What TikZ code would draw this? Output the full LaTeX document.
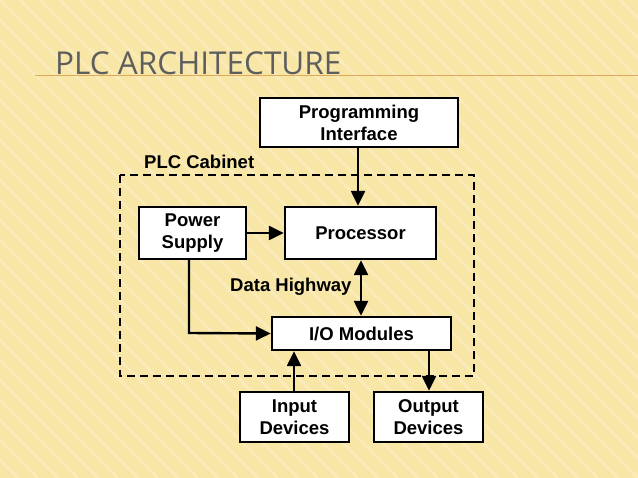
\documentclass[tikz,border=0pt]{standalone}
\usepackage{fontspec}
\setmainfont{Liberation Sans}
\newfontfamily\titlefont{Open Sans}
\usetikzlibrary{arrows.meta}
\definecolor{bg}{HTML}{F8E6A6}
\definecolor{stripe}{HTML}{FAEBB8}
\definecolor{titlegray}{HTML}{5E5E5E}
\definecolor{rule}{HTML}{E0A85A}
\begin{document}
\begin{tikzpicture}[x=1pt,y=-1pt,
  blk/.style={draw,line width=2.4pt,fill=white,font=\bfseries\fontsize{18.5}{22}\selectfont,align=center,inner sep=0pt},
  arr/.style={line width=2.4pt,-{Triangle[length=15pt,width=14pt]}},
  darr/.style={line width=2.4pt,{Triangle[length=15pt,width=14pt]}-{Triangle[length=15pt,width=14pt]}},
  lbl/.style={font=\bfseries\fontsize{18.5}{22}\selectfont}]
\useasboundingbox (0,0) rectangle (638,478);
\fill[bg] (0,0) rectangle (638,478);
\begin{scope}
\clip (0,0) rectangle (638,478);
\foreach \i in {-500,-480,...,700} {\draw[stripe,line width=3pt] (\i,0) -- (\i+478,478);}
\end{scope}
\node[anchor=base west,text=titlegray,font=\titlefont\fontsize{31.5}{36}\selectfont,inner sep=0pt] (title) at (55,75) {PLC ARCHITECTURE};
\draw[rule,line width=0.8pt] (35,75) -- (638,75);
\draw[dashed,line width=1.4pt,dash pattern=on 8pt off 5pt] (120,175) rectangle (474,376);
\node[lbl,anchor=base west,inner sep=0pt] (cab) at (144,169) {PLC Cabinet};
\node[blk,minimum width=198pt,minimum height=49pt] (pi) at (359,122.5) {Programming\\Interface};
\node[blk,minimum width=107pt,minimum height=52pt] (ps) at (192.5,233) {Power\\Supply};
\node[blk,minimum width=151pt,minimum height=52pt] (pr) at (360.5,233) {Processor};
\node[blk,minimum width=179pt,minimum height=33pt] (io) at (361.5,333.5) {I/O Modules};
\node[blk,minimum width=109pt,minimum height=50pt] (in) at (294.5,417) {Input\\Devices};
\node[blk,minimum width=109pt,minimum height=50pt] (out) at (428.5,417) {Output\\Devices};
\node[lbl,anchor=base west,inner sep=0pt] (dh) at (230,292) {Data Highway};
\draw[arr] (pi.south -| 358,0) -- (pr.north -| 358,0);
\draw[arr] (ps.east) -- (pr.west);
\draw[darr] (pr.south -| 361,0) -- (io.north -| 361,0);
\draw[arr] (ps.south -| 189,0) -- (189,333) -- (io.west);
\draw[arr] (in.north -| 294,0) -- (io.south -| 294,0);
\draw[arr] (io.south -| 429,0) -- (out.north -| 429,0);
\end{tikzpicture}
\end{document}
